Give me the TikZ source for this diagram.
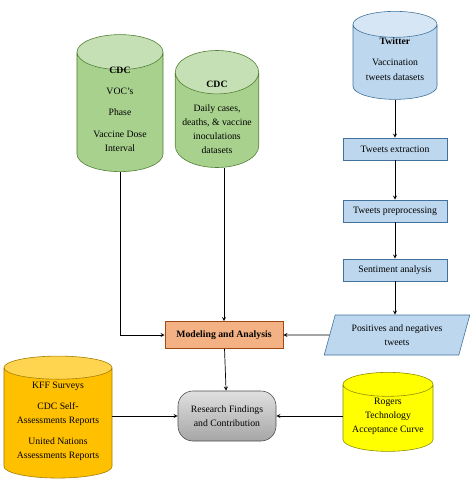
\documentclass[tikz,border=0pt]{standalone}
\usepackage{fontspec}
\setmainfont{Liberation Serif}
\usetikzlibrary{shapes.geometric}

\definecolor{grnbody}{HTML}{A9D18E}
\definecolor{grntop}{HTML}{C5E0B4}
\definecolor{grnline}{HTML}{507E32}
\definecolor{blubody}{HTML}{BDD7EE}
\definecolor{blutop}{HTML}{D6E6F5}
\definecolor{bluline}{HTML}{41719C}
\definecolor{salbody}{HTML}{F4B183}
\definecolor{salline}{HTML}{9E4A17}
\definecolor{goldbody}{HTML}{FFC000}
\definecolor{goldtop}{HTML}{FFD44F}
\definecolor{goldline}{HTML}{A67C00}
\definecolor{yelbody}{HTML}{FFFF00}
\definecolor{yelline}{HTML}{8C8C00}

\begin{document}
\begin{tikzpicture}[
    x=0.03cm, y=-0.03cm,
    font=\fontsize{8.3}{12}\selectfont,
    store/.style={cylinder, shape border rotate=90, draw, cylinder uses custom fill, inner sep=0pt, line width=0.5pt},
    cdcstore/.style={store, draw=grnline, cylinder body fill=grnbody, cylinder end fill=grntop},
    twstore/.style={store, draw=bluline, cylinder body fill=blubody, cylinder end fill=blutop},
    process/.style={rectangle, draw=bluline, fill=blubody, line width=0.5pt, minimum width=3.12cm, minimum height=0.66cm},
    arrow/.style={->, >=stealth, line width=0.6pt}
]
\useasboundingbox (0,0) rectangle (474,482);

% Sources CDC (colonnes vertes)
\node[cdcstore, minimum width=2.58cm, minimum height=4.11cm, aspect=0.52] (voc) at (120,112)
    {\smash{\begin{tabular}{c}\textbf{CDC}\\[6pt]VOC’s\\[6pt]Phase\\[6pt]Vaccine Dose\\Interval\end{tabular}}};
\node[cdcstore, minimum width=2.31cm, minimum height=3.51cm, aspect=0.52] (daily) at (217,120)
    {\smash{\begin{tabular}{c}\textbf{CDC}\\[8pt]Daily cases,\\deaths, \& vaccine\\inoculations\\datasets\end{tabular}}};

% Chaine Twitter (colonne de droite)
\node[twstore, minimum width=2.52cm, minimum height=2.64cm, aspect=0.36] (twitter) at (395,62)
    {\smash{\begin{tabular}{c}\textbf{Twitter}\\[6pt]Vaccination\\tweets datasets\end{tabular}}};
\node[process] (extract) at (395,149) {Tweets extraction};
\node[process] (prepro) at (395,211) {Tweets preprocessing};
\node[process] (senti) at (395,270) {Sentiment analysis};
\node[trapezium, trapezium left angle=73, trapezium right angle=107, trapezium stretches=true, draw=bluline, fill=blubody, line width=0.5pt, minimum width=4.41cm, minimum height=1.2cm, align=center] (posneg) at (397,335) {Positives and negatives\\tweets};

% Analyse et resultats
\node[rectangle, draw=salline, fill=salbody, line width=0.5pt, minimum width=3.54cm, minimum height=0.81cm, font=\fontsize{8.3}{12}\selectfont\bfseries] (model) at (224,335) {Modeling and Analysis};
\node[rectangle, rounded corners=0.45cm, draw=black!70, top color=black!12, bottom color=black!35, line width=0.5pt, minimum width=2.94cm, minimum height=1.5cm, align=center] (result) at (227,416) {Research Findings\\and Contribution};

% Autres sources (bas)
\node[store, draw=goldline, cylinder body fill=goldbody, cylinder end fill=goldtop, minimum width=3.24cm, minimum height=3.66cm, aspect=0.24] (kff) at (58,423)
    {\smash{\begin{tabular}{c}KFF Surveys\\[6pt]CDC Self-\\Assessments Reports\\[6pt]United Nations\\Assessments Reports\end{tabular}}};
\node[store, draw=yelline, cylinder body fill=yelbody, cylinder end fill=yelbody, minimum width=2.7cm, minimum height=2.37cm, aspect=0.28] (rogers) at (388,418)
    {\smash{\begin{tabular}{c}Rogers\\Technology\\Acceptance Curve\end{tabular}}};

% Fleches
\draw[arrow] (voc.bottom) |- (model.west);
\draw[arrow] (model.north |- daily.bottom) -- (model.north);
\draw[arrow] (twitter.bottom) -- (extract);
\draw[arrow] (extract) -- (prepro);
\draw[arrow] (prepro) -- (senti);
\draw[arrow] (senti) -- (senti |- posneg.north);
\draw[arrow] (posneg.west) -- (model.east);
\draw[arrow] (model) -- (result);
\draw[arrow] (kff.east |- result) -- (result.west);
\draw[arrow] (rogers.west |- result) -- (result.east);

\end{tikzpicture}
\end{document}
